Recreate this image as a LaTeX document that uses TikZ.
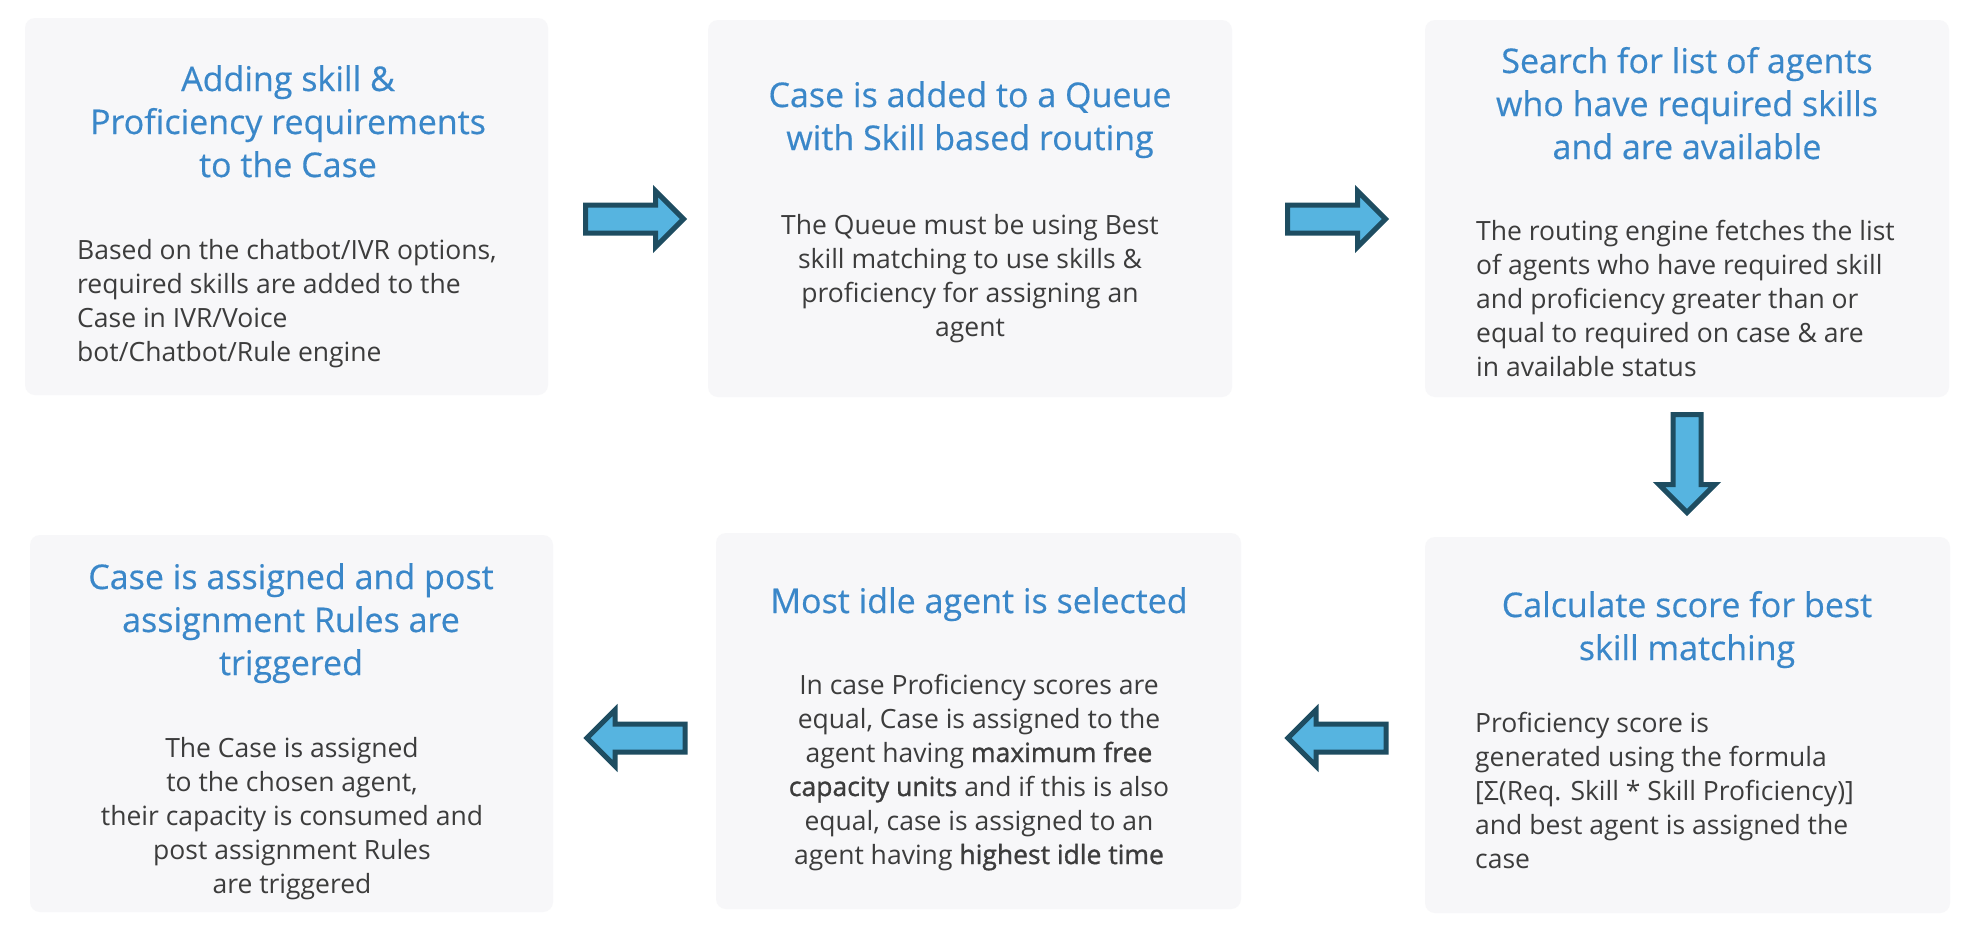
\documentclass[tikz,border=0pt]{standalone}
\usepackage{fontspec}
\setmainfont{Open Sans}
\newfontfamily\titlefont[FakeBold=0.4]{Open Sans}
\newfontfamily\semifont[FakeBold=1.2]{Open Sans}
\definecolor{boxfill}{HTML}{F7F7F9}
\definecolor{titleblue}{HTML}{3A87C9}
\definecolor{bodygray}{HTML}{3C3C3C}
\definecolor{arrowfill}{HTML}{56B4E0}
\definecolor{arrowline}{HTML}{1E4D61}
\newcommand{\semi}[1]{{\semifont #1}}
\tikzset{
  card/.style={fill=boxfill, draw=none, rounded corners=10pt, inner sep=0pt},
  ttl/.style={inner sep=0pt, text=titleblue, font=\titlefont\fontsize{34}{43}\selectfont, align=center, anchor=base},
  bodyc/.style={inner sep=0pt, text=bodygray, font=\fontsize{26.5}{34}\selectfont, align=center, anchor=base},
  bodyl/.style={inner sep=0pt, text=bodygray, font=\fontsize{26.5}{34}\selectfont, align=left, anchor=base west},
  blockarrow/.style={fill=arrowfill, draw=arrowline, line width=5pt, line join=miter},
  barrow/.pic={
    \draw[blockarrow] (-49.5,-14) -- (20.5,-14) -- (20.5,-28) -- (48.5,0)
      -- (20.5,28) -- (20.5,14) -- (-49.5,14) -- cycle;
  }
}
\begin{document}
\begin{tikzpicture}[x=1pt,y=-1pt]
\useasboundingbox[fill=white] (0,0) rectangle (1986,940);

% cards
\node[card, minimum width=523pt, minimum height=377pt] (b1) at (286.5,206.5) {};
\node[card, minimum width=524pt, minimum height=377pt] (b2) at (970,208.5) {};
\node[card, minimum width=524pt, minimum height=377pt] (b3) at (1687,208.5) {};
\node[card, minimum width=523pt, minimum height=377pt] (b4) at (291.5,723.5) {};
\node[card, minimum width=525pt, minimum height=376pt] (b5) at (978.5,721) {};
\node[card, minimum width=525pt, minimum height=376pt] (b6) at (1687.5,725) {};

% (node y = baseline of the last line)
% box 1
\node[ttl] (t1) at (288,177) {Adding skill \&\\Proficiency requirements\\to the Case};
\node[bodyl] (d1) at (77,361) {Based on the chatbot/IVR options,\\required skills are added to the\\Case in IVR/Voice\\bot/Chatbot/Rule engine};

% box 2
\node[ttl] (t2) at (970,150) {Case is added to a Queue\\with Skill based routing};
\node[bodyc] (d2) at (970,336) {The Queue must be using Best\\skill matching to use skills \&\\proficiency for assigning an\\agent};

% box 3
\node[ttl] (t3) at (1687,159) {Search for list of agents\\who have required skills\\and are available};
\node[bodyl] (d3) at (1476,376) {The routing engine fetches the list\\of agents who have required skill\\and proficiency greater than or\\equal to required on case \& are\\in available status};

% box 4
\node[ttl] (t4) at (291,675) {Case is assigned and post\\assignment Rules are\\triggered};
\node[bodyc] (d4) at (292,893) {The Case is assigned\\to the chosen agent,\\their capacity is consumed and\\post assignment Rules\\are triggered};

% box 5
\node[ttl] (t5) at (979,613) {Most idle agent is selected};
\node[bodyc] (d5) at (979,864) {In case Proficiency scores are\\equal, Case is assigned to the\\agent having \semi{maximum free}\\\semi{capacity units} and if this is also\\equal, case is assigned to an\\agent having \semi{highest idle time}};

% box 6
\node[ttl] (t6) at (1687,660) {Calculate score for best\\skill matching};
\node[bodyl] (d6) at (1475,868) {Proficiency score is\\generated using the formula\\{[}Σ(Req. Skill * Skill Proficiency)]\\and best agent is assigned the\\case};

% block arrows
\pic (a1) at (635,219) {barrow};
\pic (a2) at (1337,219) {barrow};
\pic[rotate=-90] (a3) at (1687,464) {barrow};
\pic[rotate=180] (a4) at (1336.5,738) {barrow};
\pic[rotate=180] (a5) at (635.5,738) {barrow};
\end{tikzpicture}
\end{document}
